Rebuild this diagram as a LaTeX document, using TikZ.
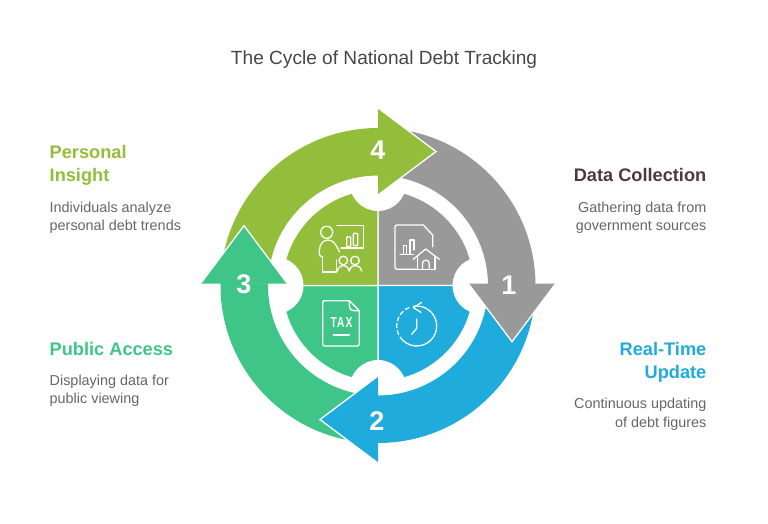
\documentclass[tikz,border=0pt]{standalone}
\usepackage{fontspec}
\setmainfont{Liberation Sans}
\definecolor{limeGreen}{HTML}{93BE3B}
\definecolor{midGray}{HTML}{999999}
\definecolor{skyBlue}{HTML}{1FABDC}
\definecolor{seaGreen}{HTML}{3FC587}
\definecolor{darkBrown}{HTML}{4E3B38}
\definecolor{descGray}{HTML}{666666}
\tikzset{
  heading/.style={font=\fontsize{18.2}{22}\selectfont\bfseries, inner sep=0pt},
  desc/.style={font=\fontsize{14.4}{18}\selectfont, text=descGray, inner sep=0pt},
  number/.style={font=\fontsize{27}{30}\selectfont\bfseries, text=white},
  icon/.style={white, line width=1.3pt, line cap=round, line join=round},
}
\begin{document}
\begin{tikzpicture}[x=1pt, y=-1pt]
\useasboundingbox (0,0) rectangle (768,524);
%%%%% Title %%%%%
\node[anchor=base, font=\fontsize{19.1}{22}\selectfont, text=black!72] (title) at (384,65) {The Cycle of National Debt Tracking};
%%%%% Wheel %%%%%
\begin{scope}[shift={(378,285.5)}]
\foreach \a/\c in {-90/midGray,0/skyBlue,90/seaGreen,180/limeGreen}{
\fill[draw=white, line width=1.2pt, fill=\c] (0,0)--(\a:96) arc[start angle=\a, delta angle=90, radius=96]--cycle;
}
\foreach \a in {0,90,180,270}{
\fill[white] (\a:103) circle[radius=28.5];
}
\foreach \a/\c in {-89/midGray,1/skyBlue,91/seaGreen,181/limeGreen}{
\fill[\c] (\a:157.5) arc[start angle=\a, delta angle=90, radius=157.5]--(\a+90:110) arc[start angle=\a+90, delta angle=-90, radius=110]--cycle;
}
% arrow heads
\foreach \a/\c/\d in {0/limeGreen/0,270/midGray/-1.8,180/skyBlue/0,90/seaGreen/-1.8}{
\begin{scope}[shift={(0,\d)}, rotate=\a]
\fill[\c] (0,-177.5)--(58,-134)--(0,-90.5)--cycle;
\draw[white, line width=1.3pt] (0,-177.5)--(58,-134)--(0,-90.5);
\end{scope}
}
\end{scope}
\node[number] (n1) at (509,285) {1};
\node[number] (n2) at (377,421) {2};
\node[number] (n3) at (244,284) {3};
\node[number] (n4) at (378,150) {4};
%%%%% Labels %%%%%
\node[heading, anchor=base west, text=limeGreen] (pi1) at (49.5,158) {Personal};
\node[heading, anchor=base west, text=limeGreen] (pi2) at (49.5,181) {Insight};
\node[desc, anchor=base west] (pi3) at (49.5,212) {Individuals analyze};
\node[desc, anchor=base west] (pi4) at (49.5,230) {personal debt trends};
\node[heading, anchor=base west, text=seaGreen] (pa1) at (49.5,355) {Public Access};
\node[desc, anchor=base west] (pa2) at (49.5,385) {Displaying data for};
\node[desc, anchor=base west] (pa3) at (49.5,403) {public viewing};
\node[heading, anchor=base east, text=darkBrown] (dc1) at (706.5,181) {Data Collection};
\node[desc, anchor=base east] (dc2) at (706.5,212) {Gathering data from};
\node[desc, anchor=base east] (dc3) at (706.5,230) {government sources};
\node[heading, anchor=base east, text=skyBlue] (rt1) at (706.5,355) {Real-Time};
\node[heading, anchor=base east, text=skyBlue] (rt2) at (706.5,378) {Update};
\node[desc, anchor=base east] (rt3) at (706.5,408) {Continuous updating};
\node[desc, anchor=base east] (rt4) at (706.5,427) {of debt figures};
%%%%% Icons %%%%%
% presenter
\draw[icon] (326.7,232.3) circle[radius=6];
\draw[icon] (337,225.7)--(363.5,225.7)--(363.5,248)--(341,248);
\draw[icon, rounded corners=1pt] (346.7,236.7) rectangle (350.7,246.7);
\draw[icon, rounded corners=1pt] (353.3,233.3) rectangle (357.7,245.7);
\draw[icon] (322.7,257)--(322.7,272)--(336.7,272)--(336.7,260);
\draw[icon] (322.7,257) .. controls (319,256) and (319,254) .. (319.3,250) .. controls (320,243) and (324,240) .. (328,240) .. controls (333,240) and (336,244) .. (339.5,252);
\draw[icon] (343.3,260.5) circle[radius=4.3];
\draw[icon] (355,260.5) circle[radius=4.3];
\draw[icon] (337.3,271) .. controls (338.5,267) and (341,265.5) .. (343.3,265.5) .. controls (346,265.5) and (348,267) .. (349.3,271) .. controls (350.5,267) and (352.5,265.5) .. (355,265.5) .. controls (358,265.5) and (360.5,267) .. (361.7,271);
% document and house
\draw[icon, rounded corners=2pt] (416.7,269.3)--(395,269.3)--(395,225)--(423.3,225);
\draw[icon] (423.3,225)--(432.7,235)--(432.7,246.7);
\draw[icon] (400,254.3)--(413.5,254.3);
\draw[icon] (403.3,254.3)--(403.3,245.7)--(406.7,245.7)--(406.7,254.3);
\draw[icon] (410,254.3)--(410,240)--(414,240)--(414,250);
\draw[icon] (413.3,259.3)--(425.7,249)--(439.3,259.3);
\draw[icon] (417.3,256.7)--(417.3,269.3)--(435,269.3)--(435,256.7);
\draw[icon] (422.5,269.3)--(422.5,263.5) arc[start angle=180, end angle=360, radius=3.4]--(429.3,269.3);
% tax sheet
\draw[icon, rounded corners=1.5pt] (349.3,300.7)--(322.7,300.7)--(322.7,346)--(359.3,346)--(359.3,310.7);
\draw[icon] (349.3,300.7)--(359.3,310.7);
\draw[icon] (349.3,300.7)--(349.3,306) .. controls (349.3,309) and (351,310.7) .. (354,310.7)--(359.3,310.7);
\node[font=\fontsize{14.5}{16}\selectfont, text=white] (tax) at (341.5,322.3) {\scalebox{.7}[1]{\addfontfeatures{LetterSpace=12}\bfseries TAX}};
\draw[icon] (333.3,335)--(349.3,335);
% clock
\draw[icon] (416.7,326)++(-100:20) arc[start angle=-100, end angle=135, radius=20];
\draw[icon, dash pattern=on 4pt off 3pt] (416.7,326)++(135:20) arc[start angle=135, end angle=255, radius=20];
\draw[icon] (421.7,302.3)--(413.3,307.7)--(421,312.3);
\draw[icon] (416.7,319)--(416.7,328.3)--(411.7,334.3);
\end{tikzpicture}
\end{document}
